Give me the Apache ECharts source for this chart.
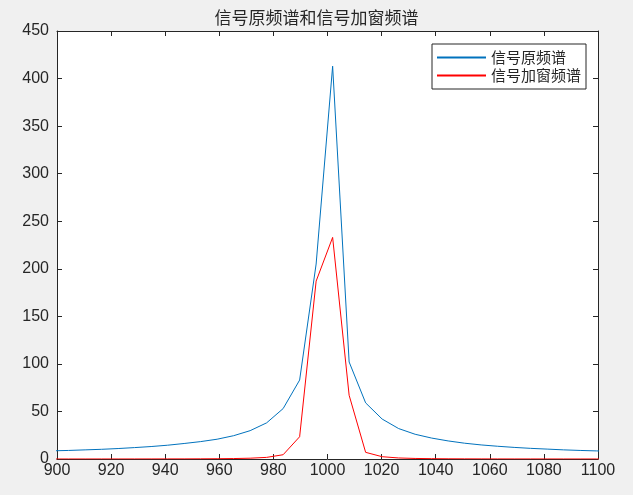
<!DOCTYPE html>
<html>
<head>
<meta charset="utf-8">
<script src="https://cdn.jsdelivr.net/npm/echarts@6/dist/echarts.min.js"></script>
<style>
  html, body { margin: 0; padding: 0; background: #f0f0f0; }
  #chart { width: 633px; height: 495px; }
</style>
</head>
<body>
<div id="chart"></div>
<script>
// Frequency bins (Hz)
var freqs = [898.2, 904.3, 910.4, 916.5, 922.6, 928.7, 934.8, 940.9, 947.0, 953.1,
             959.2, 965.3, 971.4, 977.5, 983.6, 989.7, 995.8, 1001.9, 1008.0, 1014.1,
             1020.2, 1026.3, 1032.4, 1038.5, 1044.6, 1050.7, 1056.8, 1062.9, 1069.0, 1075.1,
             1081.2, 1087.3, 1093.4, 1099.5, 1105.6];
// 信号原频谱
var originalSpectrum = [8.6, 9.0, 9.6, 10.2, 11.0, 12.0, 13.1, 14.5, 16.3, 18.3,
                        20.8, 24.5, 29.8, 38, 53, 83, 205, 413, 102, 59,
                        42, 32, 26, 22, 19, 16.6, 14.8, 13.4, 12.2, 11.2,
                        10.4, 9.6, 9.0, 8.5, 8.0];
// 信号加窗频谱
var windowedSpectrum = [0.02, 0.02, 0.03, 0.04, 0.04, 0.06, 0.07, 0.1, 0.13, 0.19,
                        0.29, 0.47, 0.85, 1.7, 4.5, 23.4, 187, 233, 67, 7,
                        2.4, 1.1, 0.58, 0.35, 0.22, 0.15, 0.1, 0.08, 0.06, 0.05,
                        0.04, 0.03, 0.02, 0.02, 0.02];
var xTicks = [900, 920, 940, 960, 980, 1000, 1020, 1040, 1060, 1080, 1100];
var yTicks = [0, 50, 100, 150, 200, 250, 300, 350, 400, 450];
var seriesNames = ['信号原频谱', '信号加窗频谱'];
var seriesColors = ['#0072BD', '#FF0000'];

function pairs(xs, ys) { return xs.map(function (x, i) { return [x, ys[i]]; }); }

var axisColor = '#262626';
var labelFont = { color: axisColor, fontSize: 16, fontFamily: 'Liberation Sans, Arial, sans-serif',
                  formatter: function (v) { return String(v); } };

var chart = echarts.init(document.getElementById('chart'), null, { renderer: 'canvas' });
chart.setOption({
  backgroundColor: '#f0f0f0',
  animation: false,
  title: {
    text: '信号原频谱和信号加窗频谱',
    left: 'center',
    top: 4,
    textStyle: { color: axisColor, fontSize: 17, fontWeight: 'normal', fontFamily: 'Noto Sans CJK SC' }
  },
  legend: {
    left: 432,
    top: 44,
    orient: 'vertical',
    padding: [6, 5, 6, 5],
    itemGap: 3,
    itemWidth: 49,
    itemHeight: 2,
    icon: 'rect',
    backgroundColor: '#ffffff',
    borderColor: axisColor,
    borderWidth: 1,
    borderRadius: 0,
    textStyle: { color: axisColor, fontSize: 15, lineHeight: 15, fontFamily: 'Noto Sans CJK SC', padding: [0, 0, 0, 0] },
    data: seriesNames.map(function (n, i) {
      return { name: n, icon: 'rect', itemStyle: { color: seriesColors[i], borderWidth: 0 } };
    })
  },
  grid: { left: 57, right: 35, top: 31, bottom: 36, show: true, backgroundColor: '#ffffff', borderWidth: 0 },
  xAxis: [{
    type: 'value', min: xTicks[0], max: xTicks[xTicks.length - 1], interval: 20,
    axisLine: { show: true, onZero: false, lineStyle: { color: axisColor, width: 1 } },
    axisTick: { show: true, inside: true, length: 5, lineStyle: { color: axisColor } },
    axisLabel: Object.assign({ margin: 4 }, labelFont),
    splitLine: { show: false }
  }, {
    type: 'value', position: 'top', min: xTicks[0], max: xTicks[xTicks.length - 1], interval: 20,
    axisLine: { show: true, onZero: false, lineStyle: { color: axisColor, width: 1 } },
    axisTick: { show: true, inside: true, length: 5, lineStyle: { color: axisColor } },
    axisLabel: { show: false },
    splitLine: { show: false }
  }],
  yAxis: [{
    type: 'value', min: yTicks[0], max: yTicks[yTicks.length - 1], interval: 50,
    axisLine: { show: true, onZero: false, lineStyle: { color: axisColor, width: 1 } },
    axisTick: { show: true, inside: true, length: 5, lineStyle: { color: axisColor } },
    axisLabel: Object.assign({ margin: 8 }, labelFont),
    splitLine: { show: false }
  }, {
    type: 'value', position: 'right', min: yTicks[0], max: yTicks[yTicks.length - 1], interval: 50,
    axisLine: { show: true, onZero: false, lineStyle: { color: axisColor, width: 1 } },
    axisTick: { show: true, inside: true, length: 5, lineStyle: { color: axisColor } },
    axisLabel: { show: false },
    splitLine: { show: false }
  }],
  series: [{
    name: seriesNames[0], type: 'line', xAxisIndex: 0, yAxisIndex: 0,
    data: pairs(freqs, originalSpectrum),
    symbol: 'none', clip: true,
    lineStyle: { color: seriesColors[0], width: 1 }, itemStyle: { color: seriesColors[0] }
  }, {
    name: seriesNames[1], type: 'line', xAxisIndex: 0, yAxisIndex: 0,
    data: pairs(freqs, windowedSpectrum),
    symbol: 'none', clip: true,
    lineStyle: { color: seriesColors[1], width: 1 }, itemStyle: { color: seriesColors[1] }
  }]
});
</script>
</body>
</html>
